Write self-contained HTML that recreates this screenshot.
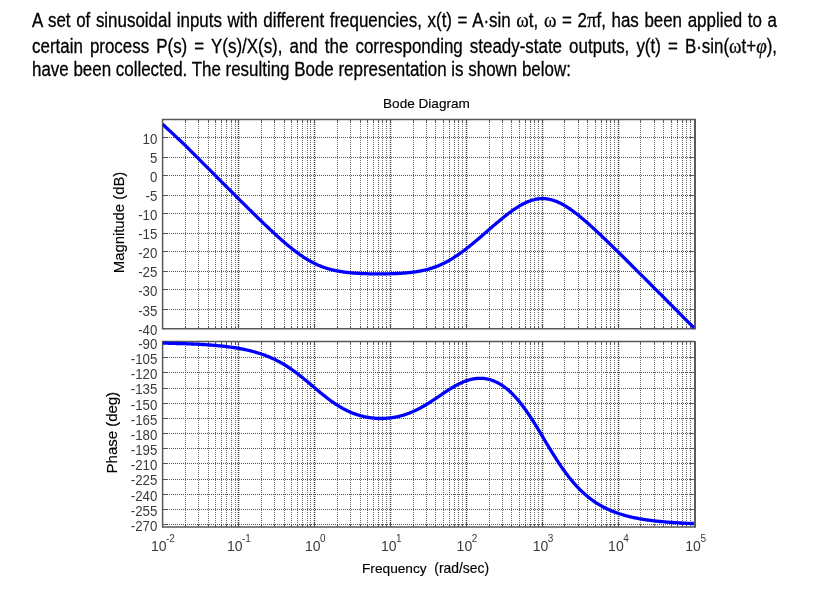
<!DOCTYPE html>
<html><head><meta charset="utf-8"><style>
html,body{margin:0;padding:0;background:#fff;}
body{width:813px;height:591px;position:relative;overflow:hidden;}
.ln{position:absolute;left:32.3px;font-family:"Liberation Sans",sans-serif;font-size:19.5px;line-height:19.5px;color:#000;white-space:nowrap;transform:scaleX(0.868);transform-origin:0 0;-webkit-text-stroke:0.3px #000;}
.sy{font-family:"Liberation Serif",serif;font-size:1.12em;line-height:0;}
</style></head><body>

<div class="ln" style="top:11.39px;width:858.3px;text-align-last:justify">A set of sinusoidal inputs with different frequencies, x(t) = A·sin <span class="sy">ω</span>t, <span class="sy">ω</span> = 2<span class="sy">π</span>f, has been applied to a</div>
<div class="ln" style="top:37.19px;width:858.3px;text-align-last:justify">certain process P(s) = Y(s)/X(s), and the corresponding steady-state outputs, y(t) = B·sin(<span class="sy">ω</span>t+<span class="sy" style="font-style:italic">φ</span>),</div>
<div class="ln" style="top:60.19px">have been collected. The resulting Bode representation is shown below:</div>

<svg width="813" height="591" viewBox="0 0 813 591" style="position:absolute;left:0;top:0">
<defs><clipPath id="cm"><rect x="162.6" y="117.5" width="532.3" height="213.3"/></clipPath>
<clipPath id="cp"><rect x="162.6" y="338.6" width="532.3" height="188.4"/></clipPath></defs>
<g fill="none" stroke-width="1"><path d="M185.5 120V328" stroke="#686868" stroke-width="1" stroke-dasharray="1 1"/><path d="M185.5 328.8v-2.5M185.5 119.5v2.5" stroke="#555" stroke-width="1"/><path d="M198.5 120V328" stroke="#686868" stroke-width="1" stroke-dasharray="1 1"/><path d="M198.5 328.8v-2.5M198.5 119.5v2.5" stroke="#555" stroke-width="1"/><path d="M208.5 120V328" stroke="#686868" stroke-width="1" stroke-dasharray="1 1"/><path d="M208.5 328.8v-2.5M208.5 119.5v2.5" stroke="#555" stroke-width="1"/><path d="M215.5 120V328" stroke="#686868" stroke-width="1" stroke-dasharray="1 1"/><path d="M215.5 328.8v-2.5M215.5 119.5v2.5" stroke="#555" stroke-width="1"/><path d="M221.5 120V328" stroke="#686868" stroke-width="1" stroke-dasharray="1 1"/><path d="M221.5 328.8v-2.5M221.5 119.5v2.5" stroke="#555" stroke-width="1"/><path d="M226.5 120V328" stroke="#686868" stroke-width="1" stroke-dasharray="1 1"/><path d="M226.5 328.8v-2.5M226.5 119.5v2.5" stroke="#555" stroke-width="1"/><path d="M231.5 120V328" stroke="#686868" stroke-width="1" stroke-dasharray="1 1"/><path d="M231.5 328.8v-2.5M231.5 119.5v2.5" stroke="#555" stroke-width="1"/><path d="M235.5 120V328" stroke="#686868" stroke-width="1" stroke-dasharray="1 1"/><path d="M235.5 328.8v-2.5M235.5 119.5v2.5" stroke="#555" stroke-width="1"/><path d="M238.5 120V328" stroke="#404040" stroke-width="1.5" stroke-dasharray="1 1"/><path d="M238.5 328.8v-4M238.5 119.5v4" stroke="#555" stroke-width="1"/><path d="M261.5 120V328" stroke="#686868" stroke-width="1" stroke-dasharray="1 1"/><path d="M261.5 328.8v-2.5M261.5 119.5v2.5" stroke="#555" stroke-width="1"/><path d="M274.5 120V328" stroke="#686868" stroke-width="1" stroke-dasharray="1 1"/><path d="M274.5 328.8v-2.5M274.5 119.5v2.5" stroke="#555" stroke-width="1"/><path d="M284.5 120V328" stroke="#686868" stroke-width="1" stroke-dasharray="1 1"/><path d="M284.5 328.8v-2.5M284.5 119.5v2.5" stroke="#555" stroke-width="1"/><path d="M291.5 120V328" stroke="#686868" stroke-width="1" stroke-dasharray="1 1"/><path d="M291.5 328.8v-2.5M291.5 119.5v2.5" stroke="#555" stroke-width="1"/><path d="M297.5 120V328" stroke="#686868" stroke-width="1" stroke-dasharray="1 1"/><path d="M297.5 328.8v-2.5M297.5 119.5v2.5" stroke="#555" stroke-width="1"/><path d="M302.5 120V328" stroke="#686868" stroke-width="1" stroke-dasharray="1 1"/><path d="M302.5 328.8v-2.5M302.5 119.5v2.5" stroke="#555" stroke-width="1"/><path d="M307.5 120V328" stroke="#686868" stroke-width="1" stroke-dasharray="1 1"/><path d="M307.5 328.8v-2.5M307.5 119.5v2.5" stroke="#555" stroke-width="1"/><path d="M310.5 120V328" stroke="#686868" stroke-width="1" stroke-dasharray="1 1"/><path d="M310.5 328.8v-2.5M310.5 119.5v2.5" stroke="#555" stroke-width="1"/><path d="M314.5 120V328" stroke="#404040" stroke-width="1.5" stroke-dasharray="1 1"/><path d="M314.5 328.8v-4M314.5 119.5v4" stroke="#555" stroke-width="1"/><path d="M337.5 120V328" stroke="#686868" stroke-width="1" stroke-dasharray="1 1"/><path d="M337.5 328.8v-2.5M337.5 119.5v2.5" stroke="#555" stroke-width="1"/><path d="M350.5 120V328" stroke="#686868" stroke-width="1" stroke-dasharray="1 1"/><path d="M350.5 328.8v-2.5M350.5 119.5v2.5" stroke="#555" stroke-width="1"/><path d="M360.5 120V328" stroke="#686868" stroke-width="1" stroke-dasharray="1 1"/><path d="M360.5 328.8v-2.5M360.5 119.5v2.5" stroke="#555" stroke-width="1"/><path d="M367.5 120V328" stroke="#686868" stroke-width="1" stroke-dasharray="1 1"/><path d="M367.5 328.8v-2.5M367.5 119.5v2.5" stroke="#555" stroke-width="1"/><path d="M373.5 120V328" stroke="#686868" stroke-width="1" stroke-dasharray="1 1"/><path d="M373.5 328.8v-2.5M373.5 119.5v2.5" stroke="#555" stroke-width="1"/><path d="M378.5 120V328" stroke="#686868" stroke-width="1" stroke-dasharray="1 1"/><path d="M378.5 328.8v-2.5M378.5 119.5v2.5" stroke="#555" stroke-width="1"/><path d="M382.5 120V328" stroke="#686868" stroke-width="1" stroke-dasharray="1 1"/><path d="M382.5 328.8v-2.5M382.5 119.5v2.5" stroke="#555" stroke-width="1"/><path d="M386.5 120V328" stroke="#686868" stroke-width="1" stroke-dasharray="1 1"/><path d="M386.5 328.8v-2.5M386.5 119.5v2.5" stroke="#555" stroke-width="1"/><path d="M390.5 120V328" stroke="#404040" stroke-width="1.5" stroke-dasharray="1 1"/><path d="M390.5 328.8v-4M390.5 119.5v4" stroke="#555" stroke-width="1"/><path d="M413.5 120V328" stroke="#686868" stroke-width="1" stroke-dasharray="1 1"/><path d="M413.5 328.8v-2.5M413.5 119.5v2.5" stroke="#555" stroke-width="1"/><path d="M426.5 120V328" stroke="#686868" stroke-width="1" stroke-dasharray="1 1"/><path d="M426.5 328.8v-2.5M426.5 119.5v2.5" stroke="#555" stroke-width="1"/><path d="M435.5 120V328" stroke="#686868" stroke-width="1" stroke-dasharray="1 1"/><path d="M435.5 328.8v-2.5M435.5 119.5v2.5" stroke="#555" stroke-width="1"/><path d="M443.5 120V328" stroke="#686868" stroke-width="1" stroke-dasharray="1 1"/><path d="M443.5 328.8v-2.5M443.5 119.5v2.5" stroke="#555" stroke-width="1"/><path d="M449.5 120V328" stroke="#686868" stroke-width="1" stroke-dasharray="1 1"/><path d="M449.5 328.8v-2.5M449.5 119.5v2.5" stroke="#555" stroke-width="1"/><path d="M454.5 120V328" stroke="#686868" stroke-width="1" stroke-dasharray="1 1"/><path d="M454.5 328.8v-2.5M454.5 119.5v2.5" stroke="#555" stroke-width="1"/><path d="M458.5 120V328" stroke="#686868" stroke-width="1" stroke-dasharray="1 1"/><path d="M458.5 328.8v-2.5M458.5 119.5v2.5" stroke="#555" stroke-width="1"/><path d="M462.5 120V328" stroke="#686868" stroke-width="1" stroke-dasharray="1 1"/><path d="M462.5 328.8v-2.5M462.5 119.5v2.5" stroke="#555" stroke-width="1"/><path d="M466.5 120V328" stroke="#404040" stroke-width="1.5" stroke-dasharray="1 1"/><path d="M466.5 328.8v-4M466.5 119.5v4" stroke="#555" stroke-width="1"/><path d="M489.5 120V328" stroke="#686868" stroke-width="1" stroke-dasharray="1 1"/><path d="M489.5 328.8v-2.5M489.5 119.5v2.5" stroke="#555" stroke-width="1"/><path d="M502.5 120V328" stroke="#686868" stroke-width="1" stroke-dasharray="1 1"/><path d="M502.5 328.8v-2.5M502.5 119.5v2.5" stroke="#555" stroke-width="1"/><path d="M511.5 120V328" stroke="#686868" stroke-width="1" stroke-dasharray="1 1"/><path d="M511.5 328.8v-2.5M511.5 119.5v2.5" stroke="#555" stroke-width="1"/><path d="M519.5 120V328" stroke="#686868" stroke-width="1" stroke-dasharray="1 1"/><path d="M519.5 328.8v-2.5M519.5 119.5v2.5" stroke="#555" stroke-width="1"/><path d="M525.5 120V328" stroke="#686868" stroke-width="1" stroke-dasharray="1 1"/><path d="M525.5 328.8v-2.5M525.5 119.5v2.5" stroke="#555" stroke-width="1"/><path d="M530.5 120V328" stroke="#686868" stroke-width="1" stroke-dasharray="1 1"/><path d="M530.5 328.8v-2.5M530.5 119.5v2.5" stroke="#555" stroke-width="1"/><path d="M534.5 120V328" stroke="#686868" stroke-width="1" stroke-dasharray="1 1"/><path d="M534.5 328.8v-2.5M534.5 119.5v2.5" stroke="#555" stroke-width="1"/><path d="M538.5 120V328" stroke="#686868" stroke-width="1" stroke-dasharray="1 1"/><path d="M538.5 328.8v-2.5M538.5 119.5v2.5" stroke="#555" stroke-width="1"/><path d="M542.5 120V328" stroke="#404040" stroke-width="1.5" stroke-dasharray="1 1"/><path d="M542.5 328.8v-4M542.5 119.5v4" stroke="#555" stroke-width="1"/><path d="M564.5 120V328" stroke="#686868" stroke-width="1" stroke-dasharray="1 1"/><path d="M564.5 328.8v-2.5M564.5 119.5v2.5" stroke="#555" stroke-width="1"/><path d="M578.5 120V328" stroke="#686868" stroke-width="1" stroke-dasharray="1 1"/><path d="M578.5 328.8v-2.5M578.5 119.5v2.5" stroke="#555" stroke-width="1"/><path d="M587.5 120V328" stroke="#686868" stroke-width="1" stroke-dasharray="1 1"/><path d="M587.5 328.8v-2.5M587.5 119.5v2.5" stroke="#555" stroke-width="1"/><path d="M595.5 120V328" stroke="#686868" stroke-width="1" stroke-dasharray="1 1"/><path d="M595.5 328.8v-2.5M595.5 119.5v2.5" stroke="#555" stroke-width="1"/><path d="M601.5 120V328" stroke="#686868" stroke-width="1" stroke-dasharray="1 1"/><path d="M601.5 328.8v-2.5M601.5 119.5v2.5" stroke="#555" stroke-width="1"/><path d="M606.5 120V328" stroke="#686868" stroke-width="1" stroke-dasharray="1 1"/><path d="M606.5 328.8v-2.5M606.5 119.5v2.5" stroke="#555" stroke-width="1"/><path d="M610.5 120V328" stroke="#686868" stroke-width="1" stroke-dasharray="1 1"/><path d="M610.5 328.8v-2.5M610.5 119.5v2.5" stroke="#555" stroke-width="1"/><path d="M614.5 120V328" stroke="#686868" stroke-width="1" stroke-dasharray="1 1"/><path d="M614.5 328.8v-2.5M614.5 119.5v2.5" stroke="#555" stroke-width="1"/><path d="M618.5 120V328" stroke="#404040" stroke-width="1.5" stroke-dasharray="1 1"/><path d="M618.5 328.8v-4M618.5 119.5v4" stroke="#555" stroke-width="1"/><path d="M640.5 120V328" stroke="#686868" stroke-width="1" stroke-dasharray="1 1"/><path d="M640.5 328.8v-2.5M640.5 119.5v2.5" stroke="#555" stroke-width="1"/><path d="M654.5 120V328" stroke="#686868" stroke-width="1" stroke-dasharray="1 1"/><path d="M654.5 328.8v-2.5M654.5 119.5v2.5" stroke="#555" stroke-width="1"/><path d="M663.5 120V328" stroke="#686868" stroke-width="1" stroke-dasharray="1 1"/><path d="M663.5 328.8v-2.5M663.5 119.5v2.5" stroke="#555" stroke-width="1"/><path d="M671.5 120V328" stroke="#686868" stroke-width="1" stroke-dasharray="1 1"/><path d="M671.5 328.8v-2.5M671.5 119.5v2.5" stroke="#555" stroke-width="1"/><path d="M677.5 120V328" stroke="#686868" stroke-width="1" stroke-dasharray="1 1"/><path d="M677.5 328.8v-2.5M677.5 119.5v2.5" stroke="#555" stroke-width="1"/><path d="M682.5 120V328" stroke="#686868" stroke-width="1" stroke-dasharray="1 1"/><path d="M682.5 328.8v-2.5M682.5 119.5v2.5" stroke="#555" stroke-width="1"/><path d="M686.5 120V328" stroke="#686868" stroke-width="1" stroke-dasharray="1 1"/><path d="M686.5 328.8v-2.5M686.5 119.5v2.5" stroke="#555" stroke-width="1"/><path d="M690.5 120V328" stroke="#686868" stroke-width="1" stroke-dasharray="1 1"/><path d="M690.5 328.8v-2.5M690.5 119.5v2.5" stroke="#555" stroke-width="1"/><path d="M163 137.5H693" stroke="#555555" stroke-dasharray="1 1"/><path d="M162.6 137.5h4.5M693.9000000000001 137.5h-4.5" stroke="#555" stroke-width="1"/><path d="M163 157.5H693" stroke="#555555" stroke-dasharray="1 1"/><path d="M162.6 157.5h4.5M693.9000000000001 157.5h-4.5" stroke="#555" stroke-width="1"/><path d="M163 175.5H693" stroke="#555555" stroke-dasharray="1 1"/><path d="M162.6 175.5h4.5M693.9000000000001 175.5h-4.5" stroke="#555" stroke-width="1"/><path d="M163 195.5H693" stroke="#555555" stroke-dasharray="1 1"/><path d="M162.6 195.5h4.5M693.9000000000001 195.5h-4.5" stroke="#555" stroke-width="1"/><path d="M163 213.5H693" stroke="#555555" stroke-dasharray="1 1"/><path d="M162.6 213.5h4.5M693.9000000000001 213.5h-4.5" stroke="#555" stroke-width="1"/><path d="M163 233.5H693" stroke="#555555" stroke-dasharray="1 1"/><path d="M162.6 233.5h4.5M693.9000000000001 233.5h-4.5" stroke="#555" stroke-width="1"/><path d="M163 251.5H693" stroke="#555555" stroke-dasharray="1 1"/><path d="M162.6 251.5h4.5M693.9000000000001 251.5h-4.5" stroke="#555" stroke-width="1"/><path d="M163 271.5H693" stroke="#555555" stroke-dasharray="1 1"/><path d="M162.6 271.5h4.5M693.9000000000001 271.5h-4.5" stroke="#555" stroke-width="1"/><path d="M163 289.5H693" stroke="#555555" stroke-dasharray="1 1"/><path d="M162.6 289.5h4.5M693.9000000000001 289.5h-4.5" stroke="#555" stroke-width="1"/><path d="M163 309.5H693" stroke="#555555" stroke-dasharray="1 1"/><path d="M162.6 309.5h4.5M693.9000000000001 309.5h-4.5" stroke="#555" stroke-width="1"/><path d="M185.5 342V527" stroke="#686868" stroke-width="1" stroke-dasharray="1 1"/><path d="M185.5 527.0v-2.5M185.5 341.6v2.5" stroke="#555" stroke-width="1"/><path d="M198.5 342V527" stroke="#686868" stroke-width="1" stroke-dasharray="1 1"/><path d="M198.5 527.0v-2.5M198.5 341.6v2.5" stroke="#555" stroke-width="1"/><path d="M208.5 342V527" stroke="#686868" stroke-width="1" stroke-dasharray="1 1"/><path d="M208.5 527.0v-2.5M208.5 341.6v2.5" stroke="#555" stroke-width="1"/><path d="M215.5 342V527" stroke="#686868" stroke-width="1" stroke-dasharray="1 1"/><path d="M215.5 527.0v-2.5M215.5 341.6v2.5" stroke="#555" stroke-width="1"/><path d="M221.5 342V527" stroke="#686868" stroke-width="1" stroke-dasharray="1 1"/><path d="M221.5 527.0v-2.5M221.5 341.6v2.5" stroke="#555" stroke-width="1"/><path d="M226.5 342V527" stroke="#686868" stroke-width="1" stroke-dasharray="1 1"/><path d="M226.5 527.0v-2.5M226.5 341.6v2.5" stroke="#555" stroke-width="1"/><path d="M231.5 342V527" stroke="#686868" stroke-width="1" stroke-dasharray="1 1"/><path d="M231.5 527.0v-2.5M231.5 341.6v2.5" stroke="#555" stroke-width="1"/><path d="M235.5 342V527" stroke="#686868" stroke-width="1" stroke-dasharray="1 1"/><path d="M235.5 527.0v-2.5M235.5 341.6v2.5" stroke="#555" stroke-width="1"/><path d="M238.5 342V527" stroke="#404040" stroke-width="1.5" stroke-dasharray="1 1"/><path d="M238.5 527.0v-4M238.5 341.6v4" stroke="#555" stroke-width="1"/><path d="M261.5 342V527" stroke="#686868" stroke-width="1" stroke-dasharray="1 1"/><path d="M261.5 527.0v-2.5M261.5 341.6v2.5" stroke="#555" stroke-width="1"/><path d="M274.5 342V527" stroke="#686868" stroke-width="1" stroke-dasharray="1 1"/><path d="M274.5 527.0v-2.5M274.5 341.6v2.5" stroke="#555" stroke-width="1"/><path d="M284.5 342V527" stroke="#686868" stroke-width="1" stroke-dasharray="1 1"/><path d="M284.5 527.0v-2.5M284.5 341.6v2.5" stroke="#555" stroke-width="1"/><path d="M291.5 342V527" stroke="#686868" stroke-width="1" stroke-dasharray="1 1"/><path d="M291.5 527.0v-2.5M291.5 341.6v2.5" stroke="#555" stroke-width="1"/><path d="M297.5 342V527" stroke="#686868" stroke-width="1" stroke-dasharray="1 1"/><path d="M297.5 527.0v-2.5M297.5 341.6v2.5" stroke="#555" stroke-width="1"/><path d="M302.5 342V527" stroke="#686868" stroke-width="1" stroke-dasharray="1 1"/><path d="M302.5 527.0v-2.5M302.5 341.6v2.5" stroke="#555" stroke-width="1"/><path d="M307.5 342V527" stroke="#686868" stroke-width="1" stroke-dasharray="1 1"/><path d="M307.5 527.0v-2.5M307.5 341.6v2.5" stroke="#555" stroke-width="1"/><path d="M310.5 342V527" stroke="#686868" stroke-width="1" stroke-dasharray="1 1"/><path d="M310.5 527.0v-2.5M310.5 341.6v2.5" stroke="#555" stroke-width="1"/><path d="M314.5 342V527" stroke="#404040" stroke-width="1.5" stroke-dasharray="1 1"/><path d="M314.5 527.0v-4M314.5 341.6v4" stroke="#555" stroke-width="1"/><path d="M337.5 342V527" stroke="#686868" stroke-width="1" stroke-dasharray="1 1"/><path d="M337.5 527.0v-2.5M337.5 341.6v2.5" stroke="#555" stroke-width="1"/><path d="M350.5 342V527" stroke="#686868" stroke-width="1" stroke-dasharray="1 1"/><path d="M350.5 527.0v-2.5M350.5 341.6v2.5" stroke="#555" stroke-width="1"/><path d="M360.5 342V527" stroke="#686868" stroke-width="1" stroke-dasharray="1 1"/><path d="M360.5 527.0v-2.5M360.5 341.6v2.5" stroke="#555" stroke-width="1"/><path d="M367.5 342V527" stroke="#686868" stroke-width="1" stroke-dasharray="1 1"/><path d="M367.5 527.0v-2.5M367.5 341.6v2.5" stroke="#555" stroke-width="1"/><path d="M373.5 342V527" stroke="#686868" stroke-width="1" stroke-dasharray="1 1"/><path d="M373.5 527.0v-2.5M373.5 341.6v2.5" stroke="#555" stroke-width="1"/><path d="M378.5 342V527" stroke="#686868" stroke-width="1" stroke-dasharray="1 1"/><path d="M378.5 527.0v-2.5M378.5 341.6v2.5" stroke="#555" stroke-width="1"/><path d="M382.5 342V527" stroke="#686868" stroke-width="1" stroke-dasharray="1 1"/><path d="M382.5 527.0v-2.5M382.5 341.6v2.5" stroke="#555" stroke-width="1"/><path d="M386.5 342V527" stroke="#686868" stroke-width="1" stroke-dasharray="1 1"/><path d="M386.5 527.0v-2.5M386.5 341.6v2.5" stroke="#555" stroke-width="1"/><path d="M390.5 342V527" stroke="#404040" stroke-width="1.5" stroke-dasharray="1 1"/><path d="M390.5 527.0v-4M390.5 341.6v4" stroke="#555" stroke-width="1"/><path d="M413.5 342V527" stroke="#686868" stroke-width="1" stroke-dasharray="1 1"/><path d="M413.5 527.0v-2.5M413.5 341.6v2.5" stroke="#555" stroke-width="1"/><path d="M426.5 342V527" stroke="#686868" stroke-width="1" stroke-dasharray="1 1"/><path d="M426.5 527.0v-2.5M426.5 341.6v2.5" stroke="#555" stroke-width="1"/><path d="M435.5 342V527" stroke="#686868" stroke-width="1" stroke-dasharray="1 1"/><path d="M435.5 527.0v-2.5M435.5 341.6v2.5" stroke="#555" stroke-width="1"/><path d="M443.5 342V527" stroke="#686868" stroke-width="1" stroke-dasharray="1 1"/><path d="M443.5 527.0v-2.5M443.5 341.6v2.5" stroke="#555" stroke-width="1"/><path d="M449.5 342V527" stroke="#686868" stroke-width="1" stroke-dasharray="1 1"/><path d="M449.5 527.0v-2.5M449.5 341.6v2.5" stroke="#555" stroke-width="1"/><path d="M454.5 342V527" stroke="#686868" stroke-width="1" stroke-dasharray="1 1"/><path d="M454.5 527.0v-2.5M454.5 341.6v2.5" stroke="#555" stroke-width="1"/><path d="M458.5 342V527" stroke="#686868" stroke-width="1" stroke-dasharray="1 1"/><path d="M458.5 527.0v-2.5M458.5 341.6v2.5" stroke="#555" stroke-width="1"/><path d="M462.5 342V527" stroke="#686868" stroke-width="1" stroke-dasharray="1 1"/><path d="M462.5 527.0v-2.5M462.5 341.6v2.5" stroke="#555" stroke-width="1"/><path d="M466.5 342V527" stroke="#404040" stroke-width="1.5" stroke-dasharray="1 1"/><path d="M466.5 527.0v-4M466.5 341.6v4" stroke="#555" stroke-width="1"/><path d="M489.5 342V527" stroke="#686868" stroke-width="1" stroke-dasharray="1 1"/><path d="M489.5 527.0v-2.5M489.5 341.6v2.5" stroke="#555" stroke-width="1"/><path d="M502.5 342V527" stroke="#686868" stroke-width="1" stroke-dasharray="1 1"/><path d="M502.5 527.0v-2.5M502.5 341.6v2.5" stroke="#555" stroke-width="1"/><path d="M511.5 342V527" stroke="#686868" stroke-width="1" stroke-dasharray="1 1"/><path d="M511.5 527.0v-2.5M511.5 341.6v2.5" stroke="#555" stroke-width="1"/><path d="M519.5 342V527" stroke="#686868" stroke-width="1" stroke-dasharray="1 1"/><path d="M519.5 527.0v-2.5M519.5 341.6v2.5" stroke="#555" stroke-width="1"/><path d="M525.5 342V527" stroke="#686868" stroke-width="1" stroke-dasharray="1 1"/><path d="M525.5 527.0v-2.5M525.5 341.6v2.5" stroke="#555" stroke-width="1"/><path d="M530.5 342V527" stroke="#686868" stroke-width="1" stroke-dasharray="1 1"/><path d="M530.5 527.0v-2.5M530.5 341.6v2.5" stroke="#555" stroke-width="1"/><path d="M534.5 342V527" stroke="#686868" stroke-width="1" stroke-dasharray="1 1"/><path d="M534.5 527.0v-2.5M534.5 341.6v2.5" stroke="#555" stroke-width="1"/><path d="M538.5 342V527" stroke="#686868" stroke-width="1" stroke-dasharray="1 1"/><path d="M538.5 527.0v-2.5M538.5 341.6v2.5" stroke="#555" stroke-width="1"/><path d="M542.5 342V527" stroke="#404040" stroke-width="1.5" stroke-dasharray="1 1"/><path d="M542.5 527.0v-4M542.5 341.6v4" stroke="#555" stroke-width="1"/><path d="M564.5 342V527" stroke="#686868" stroke-width="1" stroke-dasharray="1 1"/><path d="M564.5 527.0v-2.5M564.5 341.6v2.5" stroke="#555" stroke-width="1"/><path d="M578.5 342V527" stroke="#686868" stroke-width="1" stroke-dasharray="1 1"/><path d="M578.5 527.0v-2.5M578.5 341.6v2.5" stroke="#555" stroke-width="1"/><path d="M587.5 342V527" stroke="#686868" stroke-width="1" stroke-dasharray="1 1"/><path d="M587.5 527.0v-2.5M587.5 341.6v2.5" stroke="#555" stroke-width="1"/><path d="M595.5 342V527" stroke="#686868" stroke-width="1" stroke-dasharray="1 1"/><path d="M595.5 527.0v-2.5M595.5 341.6v2.5" stroke="#555" stroke-width="1"/><path d="M601.5 342V527" stroke="#686868" stroke-width="1" stroke-dasharray="1 1"/><path d="M601.5 527.0v-2.5M601.5 341.6v2.5" stroke="#555" stroke-width="1"/><path d="M606.5 342V527" stroke="#686868" stroke-width="1" stroke-dasharray="1 1"/><path d="M606.5 527.0v-2.5M606.5 341.6v2.5" stroke="#555" stroke-width="1"/><path d="M610.5 342V527" stroke="#686868" stroke-width="1" stroke-dasharray="1 1"/><path d="M610.5 527.0v-2.5M610.5 341.6v2.5" stroke="#555" stroke-width="1"/><path d="M614.5 342V527" stroke="#686868" stroke-width="1" stroke-dasharray="1 1"/><path d="M614.5 527.0v-2.5M614.5 341.6v2.5" stroke="#555" stroke-width="1"/><path d="M618.5 342V527" stroke="#404040" stroke-width="1.5" stroke-dasharray="1 1"/><path d="M618.5 527.0v-4M618.5 341.6v4" stroke="#555" stroke-width="1"/><path d="M640.5 342V527" stroke="#686868" stroke-width="1" stroke-dasharray="1 1"/><path d="M640.5 527.0v-2.5M640.5 341.6v2.5" stroke="#555" stroke-width="1"/><path d="M654.5 342V527" stroke="#686868" stroke-width="1" stroke-dasharray="1 1"/><path d="M654.5 527.0v-2.5M654.5 341.6v2.5" stroke="#555" stroke-width="1"/><path d="M663.5 342V527" stroke="#686868" stroke-width="1" stroke-dasharray="1 1"/><path d="M663.5 527.0v-2.5M663.5 341.6v2.5" stroke="#555" stroke-width="1"/><path d="M671.5 342V527" stroke="#686868" stroke-width="1" stroke-dasharray="1 1"/><path d="M671.5 527.0v-2.5M671.5 341.6v2.5" stroke="#555" stroke-width="1"/><path d="M677.5 342V527" stroke="#686868" stroke-width="1" stroke-dasharray="1 1"/><path d="M677.5 527.0v-2.5M677.5 341.6v2.5" stroke="#555" stroke-width="1"/><path d="M682.5 342V527" stroke="#686868" stroke-width="1" stroke-dasharray="1 1"/><path d="M682.5 527.0v-2.5M682.5 341.6v2.5" stroke="#555" stroke-width="1"/><path d="M686.5 342V527" stroke="#686868" stroke-width="1" stroke-dasharray="1 1"/><path d="M686.5 527.0v-2.5M686.5 341.6v2.5" stroke="#555" stroke-width="1"/><path d="M690.5 342V527" stroke="#686868" stroke-width="1" stroke-dasharray="1 1"/><path d="M690.5 527.0v-2.5M690.5 341.6v2.5" stroke="#555" stroke-width="1"/><path d="M163 357.5H693" stroke="#555555" stroke-dasharray="1 1"/><path d="M162.6 357.5h4.5M693.9000000000001 357.5h-4.5" stroke="#555" stroke-width="1"/><path d="M163 372.5H693" stroke="#555555" stroke-dasharray="1 1"/><path d="M162.6 372.5h4.5M693.9000000000001 372.5h-4.5" stroke="#555" stroke-width="1"/><path d="M163 388.5H693" stroke="#555555" stroke-dasharray="1 1"/><path d="M162.6 388.5h4.5M693.9000000000001 388.5h-4.5" stroke="#555" stroke-width="1"/><path d="M163 403.5H693" stroke="#555555" stroke-dasharray="1 1"/><path d="M162.6 403.5h4.5M693.9000000000001 403.5h-4.5" stroke="#555" stroke-width="1"/><path d="M163 418.5H693" stroke="#555555" stroke-dasharray="1 1"/><path d="M162.6 418.5h4.5M693.9000000000001 418.5h-4.5" stroke="#555" stroke-width="1"/><path d="M163 433.5H693" stroke="#555555" stroke-dasharray="1 1"/><path d="M162.6 433.5h4.5M693.9000000000001 433.5h-4.5" stroke="#555" stroke-width="1"/><path d="M163 448.5H693" stroke="#555555" stroke-dasharray="1 1"/><path d="M162.6 448.5h4.5M693.9000000000001 448.5h-4.5" stroke="#555" stroke-width="1"/><path d="M163 463.5H693" stroke="#555555" stroke-dasharray="1 1"/><path d="M162.6 463.5h4.5M693.9000000000001 463.5h-4.5" stroke="#555" stroke-width="1"/><path d="M163 479.5H693" stroke="#555555" stroke-dasharray="1 1"/><path d="M162.6 479.5h4.5M693.9000000000001 479.5h-4.5" stroke="#555" stroke-width="1"/><path d="M163 494.5H693" stroke="#555555" stroke-dasharray="1 1"/><path d="M162.6 494.5h4.5M693.9000000000001 494.5h-4.5" stroke="#555" stroke-width="1"/><path d="M163 509.5H693" stroke="#555555" stroke-dasharray="1 1"/><path d="M162.6 509.5h4.5M693.9000000000001 509.5h-4.5" stroke="#555" stroke-width="1"/><path d="M163 524.5H693" stroke="#555555" stroke-dasharray="1 1"/><path d="M162.6 524.5h4.5M693.9000000000001 524.5h-4.5" stroke="#555" stroke-width="1"/></g>
<path d="M162.6 119.5H695M162.6 328.8H695" stroke="#585858" stroke-width="1.5" fill="none"/>
<path d="M162.6 118.8V329.5" stroke="#585858" stroke-width="1.5" fill="none"/>
<path d="M695.0 118.8V329.5" stroke="#5a5a5a" stroke-width="2" fill="none"/>
<path d="M162.6 341.6H695M162.6 527.0H695" stroke="#585858" stroke-width="1.5" fill="none"/>
<path d="M162.6 340.90000000000003V527.7" stroke="#585858" stroke-width="1.5" fill="none"/>
<path d="M695.0 340.90000000000003V527.7" stroke="#5a5a5a" stroke-width="2" fill="none"/>
<polyline clip-path="url(#cm)" fill="none" stroke="#0000ff" stroke-width="3.3" stroke-linejoin="round" points="162.6,124.2 163.4,124.9 164.1,125.6 164.9,126.3 165.6,127.0 166.4,127.8 167.2,128.5 167.9,129.2 168.7,129.9 169.4,130.6 170.2,131.3 171.0,132.0 171.7,132.7 172.5,133.4 173.2,134.1 174.0,134.8 174.8,135.6 175.5,136.3 176.3,137.0 177.0,137.7 177.8,138.4 178.6,139.1 179.3,139.8 180.1,140.5 180.8,141.2 181.6,141.9 182.4,142.6 183.1,143.4 183.9,144.1 184.6,144.8 185.4,145.5 186.2,146.3 186.9,147.0 187.7,147.8 188.4,148.6 189.2,149.3 190.0,150.1 190.7,150.9 191.5,151.6 192.2,152.4 193.0,153.1 193.8,153.9 194.5,154.7 195.3,155.4 196.0,156.2 196.8,157.0 197.6,157.7 198.3,158.5 199.1,159.2 199.8,160.0 200.6,160.8 201.4,161.5 202.1,162.3 202.9,163.1 203.6,163.8 204.4,164.6 205.2,165.4 205.9,166.1 206.7,166.9 207.4,167.6 208.2,168.4 209.0,169.2 209.7,169.9 210.5,170.7 211.2,171.4 212.0,172.2 212.8,173.0 213.5,173.7 214.3,174.5 215.0,175.3 215.8,176.0 216.6,176.8 217.3,177.5 218.1,178.3 218.8,179.1 219.6,179.8 220.4,180.6 221.1,181.3 221.9,182.1 222.6,182.9 223.4,183.6 224.2,184.4 224.9,185.2 225.7,185.9 226.4,186.7 227.2,187.4 228.0,188.2 228.7,188.9 229.5,189.7 230.2,190.5 231.0,191.2 231.8,192.0 232.5,192.7 233.3,193.5 234.0,194.3 234.8,195.0 235.6,195.8 236.3,196.5 237.1,197.3 237.8,198.0 238.6,198.8 239.4,199.6 240.1,200.3 240.9,201.1 241.6,201.8 242.4,202.6 243.2,203.3 243.9,204.1 244.7,204.8 245.4,205.6 246.2,206.3 247.0,207.1 247.7,207.8 248.5,208.6 249.2,209.3 250.0,210.1 250.8,210.8 251.5,211.6 252.3,212.3 253.1,213.1 253.8,213.8 254.6,214.6 255.3,215.3 256.1,216.0 256.9,216.8 257.6,217.5 258.4,218.3 259.1,219.0 259.9,219.7 260.7,220.5 261.4,221.2 262.2,221.9 262.9,222.7 263.7,223.4 264.5,224.1 265.2,224.8 266.0,225.6 266.7,226.3 267.5,227.0 268.3,227.7 269.0,228.5 269.8,229.2 270.5,229.9 271.3,230.6 272.1,231.3 272.8,232.0 273.6,232.7 274.3,233.4 275.1,234.1 275.9,234.8 276.6,235.5 277.4,236.2 278.1,236.9 278.9,237.6 279.7,238.2 280.4,238.9 281.2,239.6 281.9,240.3 282.7,240.9 283.5,241.6 284.2,242.2 285.0,242.9 285.7,243.5 286.5,244.2 287.3,244.8 288.0,245.5 288.8,246.1 289.5,246.7 290.3,247.3 291.1,247.9 291.8,248.6 292.6,249.2 293.3,249.7 294.1,250.3 294.9,250.9 295.6,251.5 296.4,252.1 297.1,252.6 297.9,253.2 298.7,253.7 299.4,254.3 300.2,254.8 300.9,255.3 301.7,255.9 302.5,256.4 303.2,256.9 304.0,257.4 304.7,257.9 305.5,258.3 306.3,258.8 307.0,259.3 307.8,259.7 308.5,260.2 309.3,260.6 310.1,261.0 310.8,261.5 311.6,261.9 312.3,262.3 313.1,262.7 313.9,263.1 314.6,263.4 315.4,263.8 316.1,264.2 316.9,264.5 317.7,264.9 318.4,265.2 319.2,265.5 319.9,265.8 320.7,266.1 321.5,266.4 322.2,266.7 323.0,267.0 323.7,267.3 324.5,267.5 325.3,267.8 326.0,268.1 326.8,268.3 327.5,268.5 328.3,268.8 329.1,269.0 329.8,269.2 330.6,269.4 331.3,269.6 332.1,269.8 332.9,270.0 333.6,270.1 334.4,270.3 335.1,270.5 335.9,270.6 336.7,270.8 337.4,270.9 338.2,271.1 338.9,271.2 339.7,271.4 340.5,271.5 341.2,271.6 342.0,271.7 342.7,271.8 343.5,272.0 344.3,272.1 345.0,272.2 345.8,272.3 346.5,272.3 347.3,272.4 348.1,272.5 348.8,272.6 349.6,272.7 350.3,272.8 351.1,272.8 351.9,272.9 352.6,273.0 353.4,273.0 354.1,273.1 354.9,273.1 355.7,273.2 356.4,273.2 357.2,273.3 357.9,273.3 358.7,273.4 359.5,273.4 360.2,273.5 361.0,273.5 361.7,273.5 362.5,273.6 363.3,273.6 364.0,273.6 364.8,273.7 365.5,273.7 366.3,273.7 367.1,273.7 367.8,273.7 368.6,273.8 369.3,273.8 370.1,273.8 370.9,273.8 371.6,273.8 372.4,273.8 373.1,273.9 373.9,273.9 374.7,273.9 375.4,273.9 376.2,273.9 376.9,273.9 377.7,273.9 378.5,273.9 379.2,273.9 380.0,273.9 380.7,273.9 381.5,273.9 382.3,273.9 383.0,273.9 383.8,273.9 384.5,273.9 385.3,273.8 386.1,273.8 386.8,273.8 387.6,273.8 388.3,273.8 389.1,273.8 389.9,273.8 390.6,273.7 391.4,273.7 392.1,273.7 392.9,273.7 393.7,273.6 394.4,273.6 395.2,273.6 395.9,273.5 396.7,273.5 397.5,273.5 398.2,273.4 399.0,273.4 399.7,273.4 400.5,273.3 401.3,273.3 402.0,273.2 402.8,273.2 403.5,273.1 404.3,273.0 405.1,273.0 405.8,272.9 406.6,272.9 407.3,272.8 408.1,272.7 408.9,272.6 409.6,272.6 410.4,272.5 411.1,272.4 411.9,272.3 412.7,272.2 413.4,272.1 414.2,272.0 414.9,271.9 415.7,271.8 416.5,271.7 417.2,271.5 418.0,271.4 418.7,271.3 419.5,271.2 420.3,271.0 421.0,270.9 421.8,270.7 422.5,270.6 423.3,270.4 424.1,270.2 424.8,270.1 425.6,269.9 426.3,269.7 427.1,269.5 427.9,269.3 428.6,269.1 429.4,268.9 430.2,268.6 430.9,268.4 431.7,268.2 432.4,267.9 433.2,267.7 434.0,267.4 434.7,267.1 435.5,266.9 436.2,266.6 437.0,266.3 437.8,266.0 438.5,265.7 439.3,265.4 440.0,265.0 440.8,264.7 441.6,264.3 442.3,264.0 443.1,263.6 443.8,263.3 444.6,262.9 445.4,262.5 446.1,262.1 446.9,261.7 447.6,261.3 448.4,260.9 449.2,260.4 449.9,260.0 450.7,259.5 451.4,259.1 452.2,258.6 453.0,258.2 453.7,257.7 454.5,257.2 455.2,256.7 456.0,256.2 456.8,255.7 457.5,255.2 458.3,254.6 459.0,254.1 459.8,253.6 460.6,253.0 461.3,252.5 462.1,251.9 462.8,251.4 463.6,250.8 464.4,250.2 465.1,249.6 465.9,249.1 466.6,248.5 467.4,247.9 468.2,247.3 468.9,246.7 469.7,246.1 470.4,245.4 471.2,244.8 472.0,244.2 472.7,243.6 473.5,242.9 474.2,242.3 475.0,241.7 475.8,241.0 476.5,240.4 477.3,239.8 478.0,239.1 478.8,238.5 479.6,237.8 480.3,237.2 481.1,236.5 481.8,235.9 482.6,235.2 483.4,234.5 484.1,233.9 484.9,233.2 485.6,232.6 486.4,231.9 487.2,231.2 487.9,230.6 488.7,229.9 489.4,229.3 490.2,228.6 491.0,227.9 491.7,227.3 492.5,226.6 493.2,226.0 494.0,225.3 494.8,224.7 495.5,224.0 496.3,223.4 497.0,222.7 497.8,222.1 498.6,221.5 499.3,220.8 500.1,220.2 500.8,219.6 501.6,218.9 502.4,218.3 503.1,217.7 503.9,217.1 504.6,216.5 505.4,215.9 506.2,215.3 506.9,214.7 507.7,214.1 508.4,213.5 509.2,212.9 510.0,212.4 510.7,211.8 511.5,211.3 512.2,210.7 513.0,210.2 513.8,209.7 514.5,209.1 515.3,208.6 516.0,208.1 516.8,207.6 517.6,207.1 518.3,206.7 519.1,206.2 519.8,205.7 520.6,205.3 521.4,204.9 522.1,204.5 522.9,204.0 523.6,203.6 524.4,203.3 525.2,202.9 525.9,202.5 526.7,202.2 527.4,201.9 528.2,201.6 529.0,201.3 529.7,201.0 530.5,200.7 531.2,200.4 532.0,200.2 532.8,200.0 533.5,199.8 534.3,199.6 535.0,199.4 535.8,199.2 536.6,199.1 537.3,199.0 538.1,198.9 538.8,198.8 539.6,198.7 540.4,198.6 541.1,198.6 541.9,198.6 542.6,198.6 543.4,198.6 544.2,198.6 544.9,198.7 545.7,198.7 546.4,198.8 547.2,198.9 548.0,199.0 548.7,199.2 549.5,199.3 550.2,199.5 551.0,199.7 551.8,199.9 552.5,200.1 553.3,200.3 554.0,200.6 554.8,200.9 555.6,201.1 556.3,201.4 557.1,201.7 557.8,202.1 558.6,202.4 559.4,202.8 560.1,203.1 560.9,203.5 561.6,203.9 562.4,204.3 563.2,204.7 563.9,205.2 564.7,205.6 565.4,206.1 566.2,206.5 567.0,207.0 567.7,207.5 568.5,208.0 569.2,208.5 570.0,209.0 570.8,209.5 571.5,210.1 572.3,210.6 573.0,211.2 573.8,211.7 574.6,212.3 575.3,212.9 576.1,213.5 576.8,214.0 577.6,214.6 578.4,215.3 579.1,215.9 579.9,216.5 580.6,217.1 581.4,217.7 582.2,218.4 582.9,219.0 583.7,219.7 584.4,220.3 585.2,221.0 586.0,221.6 586.7,222.3 587.5,222.9 588.2,223.6 589.0,224.3 589.8,225.0 590.5,225.7 591.3,226.3 592.0,227.0 592.8,227.7 593.6,228.4 594.3,229.1 595.1,229.8 595.8,230.5 596.6,231.2 597.4,231.9 598.1,232.7 598.9,233.4 599.6,234.1 600.4,234.8 601.2,235.5 601.9,236.3 602.7,237.0 603.4,237.7 604.2,238.4 605.0,239.2 605.7,239.9 606.5,240.6 607.3,241.4 608.0,242.1 608.8,242.8 609.5,243.6 610.3,244.3 611.1,245.0 611.8,245.8 612.6,246.5 613.3,247.3 614.1,248.0 614.9,248.8 615.6,249.5 616.4,250.2 617.1,251.0 617.9,251.7 618.7,252.5 619.4,253.2 620.2,254.0 620.9,254.7 621.7,255.5 622.5,256.2 623.2,257.0 624.0,257.7 624.7,258.5 625.5,259.2 626.3,260.0 627.0,260.8 627.8,261.5 628.5,262.3 629.3,263.0 630.1,263.8 630.8,264.5 631.6,265.3 632.3,266.0 633.1,266.8 633.9,267.6 634.6,268.3 635.4,269.1 636.1,269.8 636.9,270.6 637.7,271.4 638.4,272.1 639.2,272.9 639.9,273.6 640.7,274.4 641.5,275.2 642.2,275.9 643.0,276.7 643.7,277.4 644.5,278.2 645.3,279.0 646.0,279.7 646.8,280.5 647.5,281.2 648.3,282.0 649.1,282.8 649.8,283.5 650.6,284.3 651.3,285.0 652.1,285.8 652.9,286.6 653.6,287.3 654.4,288.1 655.1,288.8 655.9,289.6 656.7,290.4 657.4,291.1 658.2,291.9 658.9,292.7 659.7,293.4 660.5,294.2 661.2,294.9 662.0,295.7 662.7,296.5 663.5,297.2 664.3,298.0 665.0,298.8 665.8,299.5 666.5,300.3 667.3,301.0 668.1,301.8 668.8,302.6 669.6,303.3 670.3,304.1 671.1,304.9 671.9,305.6 672.6,306.4 673.4,307.2 674.1,307.9 674.9,308.7 675.7,309.4 676.4,310.2 677.2,311.0 677.9,311.7 678.7,312.5 679.5,313.3 680.2,314.0 681.0,314.8 681.7,315.5 682.5,316.3 683.3,317.1 684.0,317.8 684.8,318.6 685.5,319.4 686.3,320.1 687.1,320.9 687.8,321.7 688.6,322.4 689.3,323.2 690.1,323.9 690.9,324.7 691.6,325.5 692.4,326.2 693.1,327.0 693.9,327.8"/>
<polyline clip-path="url(#cp)" fill="none" stroke="#0000ff" stroke-width="3.3" stroke-linejoin="round" points="162.6,343.1 163.4,343.2 164.1,343.2 164.9,343.2 165.6,343.2 166.4,343.2 167.2,343.2 167.9,343.2 168.7,343.3 169.4,343.3 170.2,343.3 171.0,343.3 171.7,343.3 172.5,343.3 173.2,343.4 174.0,343.4 174.8,343.4 175.5,343.4 176.3,343.4 177.0,343.5 177.8,343.5 178.6,343.5 179.3,343.5 180.1,343.5 180.8,343.6 181.6,343.6 182.4,343.6 183.1,343.6 183.9,343.7 184.6,343.7 185.4,343.7 186.2,343.7 186.9,343.8 187.7,343.8 188.4,343.8 189.2,343.9 190.0,343.9 190.7,343.9 191.5,344.0 192.2,344.0 193.0,344.0 193.8,344.1 194.5,344.1 195.3,344.1 196.0,344.2 196.8,344.2 197.6,344.2 198.3,344.3 199.1,344.3 199.8,344.4 200.6,344.4 201.4,344.4 202.1,344.5 202.9,344.5 203.6,344.6 204.4,344.6 205.2,344.7 205.9,344.7 206.7,344.8 207.4,344.8 208.2,344.9 209.0,344.9 209.7,345.0 210.5,345.0 211.2,345.1 212.0,345.2 212.8,345.2 213.5,345.3 214.3,345.3 215.0,345.4 215.8,345.5 216.6,345.5 217.3,345.6 218.1,345.7 218.8,345.8 219.6,345.8 220.4,345.9 221.1,346.0 221.9,346.1 222.6,346.1 223.4,346.2 224.2,346.3 224.9,346.4 225.7,346.5 226.4,346.6 227.2,346.7 228.0,346.8 228.7,346.9 229.5,347.0 230.2,347.1 231.0,347.2 231.8,347.3 232.5,347.4 233.3,347.5 234.0,347.6 234.8,347.7 235.6,347.9 236.3,348.0 237.1,348.1 237.8,348.2 238.6,348.4 239.4,348.5 240.1,348.6 240.9,348.8 241.6,348.9 242.4,349.1 243.2,349.2 243.9,349.4 244.7,349.5 245.4,349.7 246.2,349.8 247.0,350.0 247.7,350.2 248.5,350.4 249.2,350.5 250.0,350.7 250.8,350.9 251.5,351.1 252.3,351.3 253.1,351.5 253.8,351.7 254.6,351.9 255.3,352.1 256.1,352.4 256.9,352.6 257.6,352.8 258.4,353.0 259.1,353.3 259.9,353.5 260.7,353.8 261.4,354.0 262.2,354.3 262.9,354.5 263.7,354.8 264.5,355.1 265.2,355.4 266.0,355.7 266.7,356.0 267.5,356.3 268.3,356.6 269.0,356.9 269.8,357.2 270.5,357.5 271.3,357.9 272.1,358.2 272.8,358.5 273.6,358.9 274.3,359.3 275.1,359.6 275.9,360.0 276.6,360.4 277.4,360.8 278.1,361.2 278.9,361.6 279.7,362.0 280.4,362.4 281.2,362.8 281.9,363.2 282.7,363.7 283.5,364.1 284.2,364.6 285.0,365.0 285.7,365.5 286.5,366.0 287.3,366.5 288.0,367.0 288.8,367.5 289.5,368.0 290.3,368.5 291.1,369.0 291.8,369.5 292.6,370.1 293.3,370.6 294.1,371.2 294.9,371.7 295.6,372.3 296.4,372.8 297.1,373.4 297.9,374.0 298.7,374.6 299.4,375.2 300.2,375.8 300.9,376.4 301.7,377.0 302.5,377.6 303.2,378.2 304.0,378.8 304.7,379.5 305.5,380.1 306.3,380.7 307.0,381.3 307.8,382.0 308.5,382.6 309.3,383.3 310.1,383.9 310.8,384.5 311.6,385.2 312.3,385.8 313.1,386.5 313.9,387.1 314.6,387.8 315.4,388.4 316.1,389.1 316.9,389.7 317.7,390.3 318.4,391.0 319.2,391.6 319.9,392.2 320.7,392.9 321.5,393.5 322.2,394.1 323.0,394.7 323.7,395.3 324.5,395.9 325.3,396.5 326.0,397.1 326.8,397.7 327.5,398.3 328.3,398.9 329.1,399.5 329.8,400.0 330.6,400.6 331.3,401.1 332.1,401.7 332.9,402.2 333.6,402.7 334.4,403.2 335.1,403.8 335.9,404.3 336.7,404.7 337.4,405.2 338.2,405.7 338.9,406.2 339.7,406.6 340.5,407.1 341.2,407.5 342.0,408.0 342.7,408.4 343.5,408.8 344.3,409.2 345.0,409.6 345.8,410.0 346.5,410.4 347.3,410.7 348.1,411.1 348.8,411.4 349.6,411.8 350.3,412.1 351.1,412.4 351.9,412.8 352.6,413.1 353.4,413.4 354.1,413.6 354.9,413.9 355.7,414.2 356.4,414.5 357.2,414.7 357.9,415.0 358.7,415.2 359.5,415.4 360.2,415.6 361.0,415.8 361.7,416.0 362.5,416.2 363.3,416.4 364.0,416.6 364.8,416.8 365.5,416.9 366.3,417.1 367.1,417.2 367.8,417.4 368.6,417.5 369.3,417.6 370.1,417.7 370.9,417.8 371.6,417.9 372.4,418.0 373.1,418.1 373.9,418.2 374.7,418.2 375.4,418.3 376.2,418.4 376.9,418.4 377.7,418.4 378.5,418.5 379.2,418.5 380.0,418.5 380.7,418.5 381.5,418.5 382.3,418.5 383.0,418.5 383.8,418.4 384.5,418.4 385.3,418.4 386.1,418.3 386.8,418.3 387.6,418.2 388.3,418.1 389.1,418.0 389.9,418.0 390.6,417.9 391.4,417.8 392.1,417.7 392.9,417.5 393.7,417.4 394.4,417.3 395.2,417.1 395.9,417.0 396.7,416.8 397.5,416.7 398.2,416.5 399.0,416.3 399.7,416.1 400.5,415.9 401.3,415.7 402.0,415.5 402.8,415.3 403.5,415.1 404.3,414.8 405.1,414.6 405.8,414.3 406.6,414.1 407.3,413.8 408.1,413.5 408.9,413.2 409.6,412.9 410.4,412.6 411.1,412.3 411.9,412.0 412.7,411.7 413.4,411.3 414.2,411.0 414.9,410.7 415.7,410.3 416.5,409.9 417.2,409.6 418.0,409.2 418.7,408.8 419.5,408.4 420.3,408.0 421.0,407.6 421.8,407.2 422.5,406.7 423.3,406.3 424.1,405.9 424.8,405.4 425.6,405.0 426.3,404.5 427.1,404.1 427.9,403.6 428.6,403.1 429.4,402.6 430.2,402.2 430.9,401.7 431.7,401.2 432.4,400.7 433.2,400.2 434.0,399.7 434.7,399.2 435.5,398.7 436.2,398.2 437.0,397.6 437.8,397.1 438.5,396.6 439.3,396.1 440.0,395.6 440.8,395.1 441.6,394.6 442.3,394.0 443.1,393.5 443.8,393.0 444.6,392.5 445.4,392.0 446.1,391.5 446.9,391.0 447.6,390.5 448.4,390.0 449.2,389.5 449.9,389.1 450.7,388.6 451.4,388.1 452.2,387.7 453.0,387.2 453.7,386.8 454.5,386.3 455.2,385.9 456.0,385.5 456.8,385.1 457.5,384.7 458.3,384.3 459.0,383.9 459.8,383.5 460.6,383.2 461.3,382.8 462.1,382.5 462.8,382.1 463.6,381.8 464.4,381.5 465.1,381.2 465.9,380.9 466.6,380.7 467.4,380.4 468.2,380.2 468.9,380.0 469.7,379.7 470.4,379.5 471.2,379.4 472.0,379.2 472.7,379.0 473.5,378.9 474.2,378.8 475.0,378.6 475.8,378.6 476.5,378.5 477.3,378.4 478.0,378.4 478.8,378.3 479.6,378.3 480.3,378.3 481.1,378.3 481.8,378.3 482.6,378.4 483.4,378.4 484.1,378.5 484.9,378.6 485.6,378.7 486.4,378.8 487.2,379.0 487.9,379.1 488.7,379.3 489.4,379.5 490.2,379.7 491.0,379.9 491.7,380.2 492.5,380.5 493.2,380.7 494.0,381.0 494.8,381.4 495.5,381.7 496.3,382.0 497.0,382.4 497.8,382.8 498.6,383.2 499.3,383.6 500.1,384.1 500.8,384.5 501.6,385.0 502.4,385.5 503.1,386.0 503.9,386.6 504.6,387.1 505.4,387.7 506.2,388.3 506.9,388.9 507.7,389.6 508.4,390.2 509.2,390.9 510.0,391.6 510.7,392.3 511.5,393.0 512.2,393.8 513.0,394.5 513.8,395.3 514.5,396.1 515.3,396.9 516.0,397.8 516.8,398.6 517.6,399.5 518.3,400.4 519.1,401.3 519.8,402.3 520.6,403.2 521.4,404.2 522.1,405.2 522.9,406.2 523.6,407.2 524.4,408.2 525.2,409.3 525.9,410.3 526.7,411.4 527.4,412.5 528.2,413.6 529.0,414.8 529.7,415.9 530.5,417.1 531.2,418.2 532.0,419.4 532.8,420.6 533.5,421.8 534.3,423.0 535.0,424.2 535.8,425.4 536.6,426.7 537.3,427.9 538.1,429.1 538.8,430.4 539.6,431.7 540.4,432.9 541.1,434.2 541.9,435.4 542.6,436.7 543.4,438.0 544.2,439.3 544.9,440.5 545.7,441.8 546.4,443.1 547.2,444.3 548.0,445.6 548.7,446.9 549.5,448.1 550.2,449.4 551.0,450.6 551.8,451.9 552.5,453.1 553.3,454.3 554.0,455.5 554.8,456.7 555.6,457.9 556.3,459.1 557.1,460.3 557.8,461.5 558.6,462.6 559.4,463.8 560.1,464.9 560.9,466.0 561.6,467.1 562.4,468.2 563.2,469.3 563.9,470.4 564.7,471.4 565.4,472.5 566.2,473.5 567.0,474.5 567.7,475.5 568.5,476.5 569.2,477.5 570.0,478.4 570.8,479.4 571.5,480.3 572.3,481.2 573.0,482.1 573.8,483.0 574.6,483.9 575.3,484.7 576.1,485.5 576.8,486.4 577.6,487.2 578.4,488.0 579.1,488.8 579.9,489.5 580.6,490.3 581.4,491.0 582.2,491.7 582.9,492.4 583.7,493.1 584.4,493.8 585.2,494.5 586.0,495.1 586.7,495.8 587.5,496.4 588.2,497.0 589.0,497.6 589.8,498.2 590.5,498.8 591.3,499.4 592.0,499.9 592.8,500.5 593.6,501.0 594.3,501.6 595.1,502.1 595.8,502.6 596.6,503.1 597.4,503.5 598.1,504.0 598.9,504.5 599.6,504.9 600.4,505.4 601.2,505.8 601.9,506.2 602.7,506.6 603.4,507.0 604.2,507.4 605.0,507.8 605.7,508.2 606.5,508.6 607.3,508.9 608.0,509.3 608.8,509.6 609.5,510.0 610.3,510.3 611.1,510.6 611.8,510.9 612.6,511.3 613.3,511.6 614.1,511.9 614.9,512.1 615.6,512.4 616.4,512.7 617.1,513.0 617.9,513.2 618.7,513.5 619.4,513.8 620.2,514.0 620.9,514.2 621.7,514.5 622.5,514.7 623.2,514.9 624.0,515.2 624.7,515.4 625.5,515.6 626.3,515.8 627.0,516.0 627.8,516.2 628.5,516.4 629.3,516.6 630.1,516.8 630.8,516.9 631.6,517.1 632.3,517.3 633.1,517.5 633.9,517.6 634.6,517.8 635.4,517.9 636.1,518.1 636.9,518.2 637.7,518.4 638.4,518.5 639.2,518.7 639.9,518.8 640.7,518.9 641.5,519.1 642.2,519.2 643.0,519.3 643.7,519.5 644.5,519.6 645.3,519.7 646.0,519.8 646.8,519.9 647.5,520.0 648.3,520.1 649.1,520.2 649.8,520.3 650.6,520.4 651.3,520.5 652.1,520.6 652.9,520.7 653.6,520.8 654.4,520.9 655.1,521.0 655.9,521.1 656.7,521.2 657.4,521.2 658.2,521.3 658.9,521.4 659.7,521.5 660.5,521.5 661.2,521.6 662.0,521.7 662.7,521.7 663.5,521.8 664.3,521.9 665.0,521.9 665.8,522.0 666.5,522.1 667.3,522.1 668.1,522.2 668.8,522.2 669.6,522.3 670.3,522.4 671.1,522.4 671.9,522.5 672.6,522.5 673.4,522.6 674.1,522.6 674.9,522.7 675.7,522.7 676.4,522.7 677.2,522.8 677.9,522.8 678.7,522.9 679.5,522.9 680.2,523.0 681.0,523.0 681.7,523.0 682.5,523.1 683.3,523.1 684.0,523.1 684.8,523.2 685.5,523.2 686.3,523.3 687.1,523.3 687.8,523.3 688.6,523.3 689.3,523.4 690.1,523.4 690.9,523.4 691.6,523.5 692.4,523.5 693.1,523.5 693.9,523.5"/>
<g font-family="Liberation Sans, sans-serif" fill="#3a3a3a" font-size="14" text-anchor="end"><text transform="translate(157.4,143.9) scale(0.95,1)">10</text><text transform="translate(157.4,163.0) scale(0.95,1)">5</text><text transform="translate(157.4,182.0) scale(0.95,1)">0</text><text transform="translate(157.4,201.1) scale(0.95,1)">-5</text><text transform="translate(157.4,220.1) scale(0.95,1)">-10</text><text transform="translate(157.4,239.2) scale(0.95,1)">-15</text><text transform="translate(157.4,258.3) scale(0.95,1)">-20</text><text transform="translate(157.4,277.3) scale(0.95,1)">-25</text><text transform="translate(157.4,296.4) scale(0.95,1)">-30</text><text transform="translate(157.4,315.5) scale(0.95,1)">-35</text><text transform="translate(157.4,334.5) scale(0.95,1)">-40</text><text transform="translate(157.4,348.8) scale(0.95,1)">-90</text><text transform="translate(157.4,363.9) scale(0.95,1)">-105</text><text transform="translate(157.4,379.1) scale(0.95,1)">-120</text><text transform="translate(157.4,394.3) scale(0.95,1)">-135</text><text transform="translate(157.4,409.5) scale(0.95,1)">-150</text><text transform="translate(157.4,424.6) scale(0.95,1)">-165</text><text transform="translate(157.4,439.8) scale(0.95,1)">-180</text><text transform="translate(157.4,455.0) scale(0.95,1)">-195</text><text transform="translate(157.4,470.2) scale(0.95,1)">-210</text><text transform="translate(157.4,485.4) scale(0.95,1)">-225</text><text transform="translate(157.4,500.5) scale(0.95,1)">-240</text><text transform="translate(157.4,515.7) scale(0.95,1)">-255</text><text transform="translate(157.4,530.8) scale(0.95,1)">-270</text></g>
<g font-family="Liberation Sans, sans-serif" fill="#3a3a3a" font-size="14"><text x="150.9" y="550.8">10<tspan dx="-0.5" dy="-8.9" font-size="10">-2</tspan></text><text x="226.9" y="550.8">10<tspan dx="-0.5" dy="-8.9" font-size="10">-1</tspan></text><text x="305.0" y="550.8">10<tspan dx="-0.5" dy="-8.9" font-size="10">0</tspan></text><text x="380.9" y="550.8">10<tspan dx="-0.5" dy="-8.9" font-size="10">1</tspan></text><text x="456.6" y="550.8">10<tspan dx="-0.5" dy="-8.9" font-size="10">2</tspan></text><text x="532.7" y="550.8">10<tspan dx="-0.5" dy="-8.9" font-size="10">3</tspan></text><text x="608.1" y="550.8">10<tspan dx="-0.5" dy="-8.9" font-size="10">4</tspan></text><text x="685.3" y="550.8">10<tspan dx="-0.5" dy="-8.9" font-size="10">5</tspan></text></g>
<text x="383" y="107.9" font-size="13.6" font-family="Liberation Sans, sans-serif" fill="#000" stroke="#000" stroke-width="0.15">Bode Diagram</text>
<text x="362" y="572.7" font-size="13.7" font-family="Liberation Sans, sans-serif" fill="#000" stroke="#000" stroke-width="0.15">Frequency</text>
<text x="434.3" y="572.7" font-size="13.9" font-family="Liberation Sans, sans-serif" fill="#000" stroke="#000" stroke-width="0.15">(rad/sec)</text>
<text transform="translate(123.9,273.2) rotate(-90)" font-size="14" font-family="Liberation Sans, sans-serif" fill="#000" stroke="#000" stroke-width="0.15" textLength="101.5" lengthAdjust="spacingAndGlyphs">Magnitude (dB)</text>
<text transform="translate(117.0,473.4) rotate(-90)" font-size="14" font-family="Liberation Sans, sans-serif" fill="#000" stroke="#000" stroke-width="0.15" textLength="81.5" lengthAdjust="spacingAndGlyphs">Phase (deg)</text>
</svg>
</body></html>
